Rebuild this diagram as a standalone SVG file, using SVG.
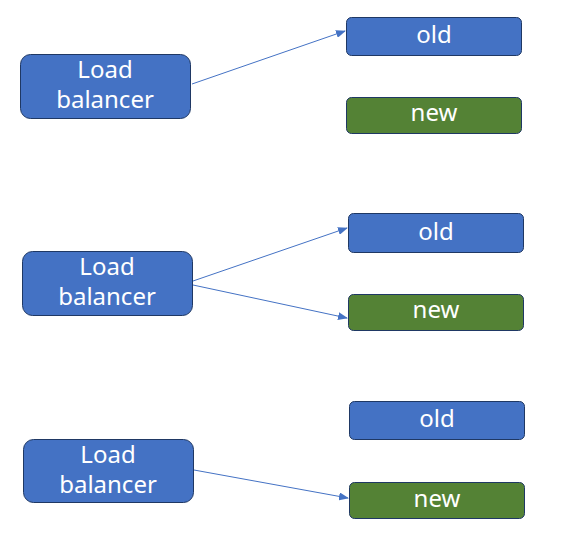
<svg xmlns="http://www.w3.org/2000/svg" width="570" height="555" viewBox="0 0 570 555">
<style>
.lb{fill:#4472C4;stroke:#1F3864;stroke-width:1}
.old{fill:#4472C4;stroke:#1F3864;stroke-width:1}
.new{fill:#548235;stroke:#1F3864;stroke-width:1}
text{font-family:"Noto Sans","Open Sans",sans-serif;font-size:24px;fill:#fff;text-anchor:middle}
.c{stroke:#4472C4;stroke-width:1;fill:none;marker-end:url(#ah)}
</style>
<defs>
<marker id="ah" markerWidth="10" markerHeight="8" refX="9" refY="4" orient="auto" markerUnits="userSpaceOnUse">
<path d="M0,0 L10,4 L0,8 Z" fill="#4472C4"/>
</marker>
</defs>
<rect width="570" height="555" fill="#fff"/>
<g id="lb1"><rect class="lb" x="20.5" y="54.5" width="170" height="64" rx="10"/><text x="105" y="78">Load</text><text x="105" y="108">balancer</text></g>
<g id="old1"><rect class="old" x="346.5" y="17.5" width="175" height="38" rx="5"/><text x="434" y="43">old</text></g>
<g id="new1"><rect class="new" x="346.5" y="97.5" width="175" height="36" rx="5"/><text x="434" y="121">new</text></g>
<g id="lb2"><rect class="lb" x="22.5" y="251.5" width="170" height="64" rx="10"/><text x="107" y="275">Load</text><text x="107" y="305">balancer</text></g>
<g id="old2"><rect class="old" x="348.5" y="213.5" width="175" height="39" rx="5"/><text x="436" y="240">old</text></g>
<g id="new2"><rect class="new" x="348.5" y="294.5" width="175" height="36" rx="5"/><text x="436" y="318">new</text></g>
<g id="lb3"><rect class="lb" x="23.5" y="439.5" width="170" height="63" rx="10"/><text x="108" y="463">Load</text><text x="108" y="493">balancer</text></g>
<g id="old3"><rect class="old" x="349.5" y="401.5" width="175" height="38" rx="5"/><text x="437" y="427">old</text></g>
<g id="new3"><rect class="new" x="349.5" y="482.5" width="175" height="36" rx="5"/><text x="437" y="507">new</text></g>
<g id="connectors">
<line class="c" x1="192" y1="84" x2="345" y2="31"/>
<line class="c" x1="193" y1="281" x2="347" y2="228"/>
<line class="c" x1="193" y1="285" x2="347" y2="318"/>
<line class="c" x1="194" y1="470" x2="348" y2="498"/>
</g>
</svg>
